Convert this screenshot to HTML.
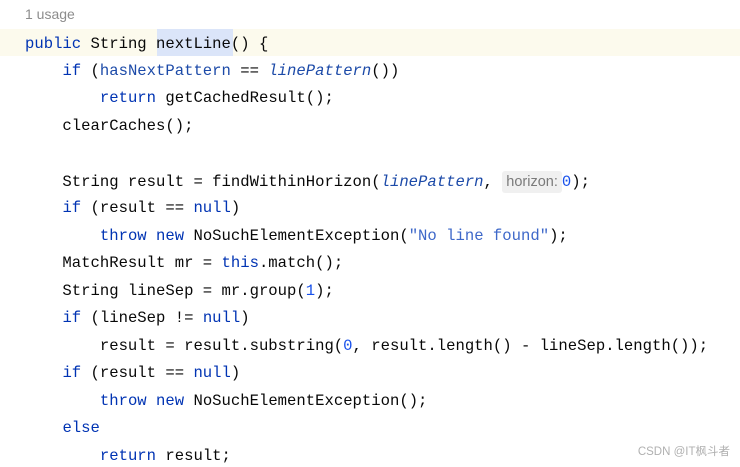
<!DOCTYPE html>
<html><head><meta charset="utf-8"><style>
body{margin:0;width:740px;height:467px;background:#fff;overflow:hidden;position:relative;font-family:"Liberation Mono",monospace;}
.u{position:absolute;left:25px;top:6px;font:14px "Liberation Sans",sans-serif;color:#8c8c8c;}
.hl{position:absolute;left:0;top:29px;width:740px;height:27px;background:#fcfaed;}
.sel{position:absolute;left:157px;top:29px;width:76px;height:27px;background:#dbe5f9;}
.l{position:absolute;left:25px;font-size:15.6px;color:#080808;white-space:pre;line-height:20px;}
.k{color:#0033b3}.f{color:#1c4aa8}.i{font-style:italic;color:#1c4aa8}.n{color:#1750eb}.s{color:#3e68c9}
.h{display:inline-block;background:#f0f0f0;color:#7a7a7a;font:14.5px "Liberation Sans",sans-serif;padding:1px 4px;border-radius:3px;line-height:20px}
.w{position:absolute;right:10px;top:443px;font:11.5px "Liberation Sans","Noto Sans CJK SC",sans-serif;color:#b0b0b0;}
</style></head><body>
<div class="u">1 usage</div>
<div class="hl"></div><div class="sel"></div>
<div class="l" style="top:34px"><span class="k">public</span> String nextLine() {</div>
<div class="l" style="top:61px">    <span class="k">if</span> (<span class="f">hasNextPattern</span> == <span class="i">linePattern</span>())</div>
<div class="l" style="top:88px">        <span class="k">return</span> getCachedResult();</div>
<div class="l" style="top:116px">    clearCaches();</div>
<div class="l" style="top:171px">    String result = findWithinHorizon(<span class="i">linePattern</span>, <span class="h">horizon:</span><span class="n">0</span>);</div>
<div class="l" style="top:198px">    <span class="k">if</span> (result == <span class="k">null</span>)</div>
<div class="l" style="top:226px">        <span class="k">throw new</span> NoSuchElementException(<span class="s">"No line found"</span>);</div>
<div class="l" style="top:253px">    MatchResult mr = <span class="k">this</span>.match();</div>
<div class="l" style="top:281px">    String lineSep = mr.group(<span class="n">1</span>);</div>
<div class="l" style="top:308px">    <span class="k">if</span> (lineSep != <span class="k">null</span>)</div>
<div class="l" style="top:336px">        result = result.substring(<span class="n">0</span>, result.length() - lineSep.length());</div>
<div class="l" style="top:363px">    <span class="k">if</span> (result == <span class="k">null</span>)</div>
<div class="l" style="top:391px">        <span class="k">throw new</span> NoSuchElementException();</div>
<div class="l" style="top:418px">    <span class="k">else</span></div>
<div class="l" style="top:446px">        <span class="k">return</span> result;</div>
<div class="w">CSDN @IT枫斗者</div>
</body></html>
